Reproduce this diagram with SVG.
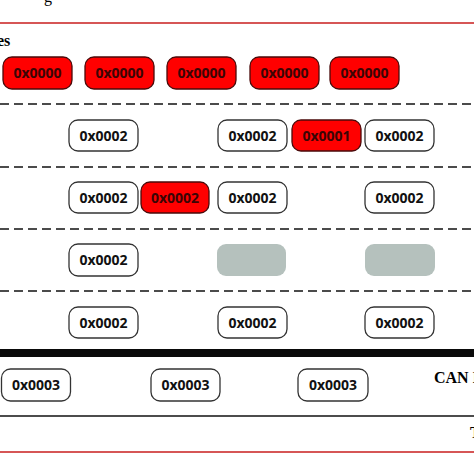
<svg xmlns="http://www.w3.org/2000/svg" width="474" height="474" viewBox="0 0 474 474">
<style>
.box{fill:#fff;stroke:#333;stroke-width:1.3}
.red{fill:#ff0000;stroke:#4a0a0a;stroke-width:1.3}
.gray{fill:#b5c1bd;stroke:none}
.t{font-family:"Open Sans","Noto Sans",sans-serif;font-weight:700;font-size:14px;text-anchor:middle;fill:#111}
.tr{fill:#3a0505}
.serif{font-family:"Liberation Serif",serif;font-size:16px;fill:#000}
.dash{stroke:#111;stroke-width:1.6;stroke-dasharray:9 5;fill:none}
.redline{stroke:#c81e1e;stroke-width:1.6}
</style>
<rect width="474" height="474" fill="#fff"/>
<g id="lines">
<text class="serif" x="44" y="2" font-size="19">g</text>
<line class="redline" x1="0" y1="23" x2="474" y2="23"/>
<text class="serif" x="-3" y="46" font-size="18" font-weight="bold">es</text>
<line class="dash" x1="0" y1="104" x2="474" y2="104"/>
<line class="dash" x1="0" y1="167" x2="474" y2="167"/>
<line class="dash" x1="0" y1="229" x2="474" y2="229"/>
<line class="dash" x1="0" y1="291" x2="474" y2="291"/>
<rect x="0" y="349" width="474" height="8" fill="#0a0a0a"/>
<text class="serif" x="434" y="383" font-weight="bold">CAN B</text>
<line x1="0" y1="416" x2="474" y2="416" stroke="#111" stroke-width="1.6"/>
<text class="serif" x="470" y="438" font-weight="bold">T</text>
<line class="redline" x1="0" y1="452" x2="474" y2="452"/>
</g>
<g id="row1">
<g id="n1a"><rect class="red" x="3" y="57" width="69" height="32" rx="9"/><text class="t tr" x="37.5" y="78">0x0000</text></g>
<g id="n1b"><rect class="red" x="85" y="57" width="69" height="32" rx="9"/><text class="t tr" x="119.5" y="78">0x0000</text></g>
<g id="n1c"><rect class="red" x="167" y="57" width="69" height="32" rx="9"/><text class="t tr" x="201.5" y="78">0x0000</text></g>
<g id="n1d"><rect class="red" x="250" y="57" width="69" height="32" rx="9"/><text class="t tr" x="284.5" y="78">0x0000</text></g>
<g id="n1e"><rect class="red" x="330" y="57" width="69" height="32" rx="9"/><text class="t tr" x="364.5" y="78">0x0000</text></g>
</g>
<g id="row2">
<g id="n2a"><rect class="box" x="69" y="120" width="69" height="31" rx="9"/><text class="t" x="103.5" y="140.5">0x0002</text></g>
<g id="n2b"><rect class="box" x="218" y="120" width="69" height="31" rx="9"/><text class="t" x="252.5" y="140.5">0x0002</text></g>
<g id="n2c"><rect class="red" x="292" y="120" width="69" height="31" rx="9"/><text class="t tr" x="326.5" y="140.5">0x0001</text></g>
<g id="n2d"><rect class="box" x="365" y="120" width="69" height="31" rx="9"/><text class="t" x="399.5" y="140.5">0x0002</text></g>
</g>
<g id="row3">
<g id="n3a"><rect class="box" x="69" y="182" width="69" height="31" rx="9"/><text class="t" x="103.5" y="202.5">0x0002</text></g>
<g id="n3b"><rect class="red" x="141" y="182" width="68" height="31" rx="9"/><text class="t tr" x="175" y="202.5">0x0002</text></g>
<g id="n3c"><rect class="box" x="218" y="182" width="69" height="31" rx="9"/><text class="t" x="252.5" y="202.5">0x0002</text></g>
<g id="n3d"><rect class="box" x="365" y="182" width="69" height="31" rx="9"/><text class="t" x="399.5" y="202.5">0x0002</text></g>
</g>
<g id="row4">
<g id="n4a"><rect class="box" x="69" y="244" width="69" height="32" rx="9"/><text class="t" x="103.5" y="265">0x0002</text></g>
<g id="n4b"><rect class="gray" x="217" y="244" width="69" height="32" rx="9"/></g>
<g id="n4c"><rect class="gray" x="365" y="244" width="70" height="32" rx="9"/></g>
</g>
<g id="row5">
<g id="n5a"><rect class="box" x="69" y="307" width="69" height="31" rx="9"/><text class="t" x="103.5" y="327.5">0x0002</text></g>
<g id="n5b"><rect class="box" x="218" y="307" width="69" height="31" rx="9"/><text class="t" x="252.5" y="327.5">0x0002</text></g>
<g id="n5c"><rect class="box" x="365" y="307" width="69" height="31" rx="9"/><text class="t" x="399.5" y="327.5">0x0002</text></g>
</g>
<g id="row6">
<g id="n6a"><rect class="box" x="1.5" y="369" width="69" height="32" rx="9"/><text class="t" x="36" y="390">0x0003</text></g>
<g id="n6b"><rect class="box" x="151" y="369" width="69" height="32" rx="9"/><text class="t" x="185.5" y="390">0x0003</text></g>
<g id="n6c"><rect class="box" x="298" y="369" width="70" height="32" rx="9"/><text class="t" x="333" y="390">0x0003</text></g>
</g>
</svg>
